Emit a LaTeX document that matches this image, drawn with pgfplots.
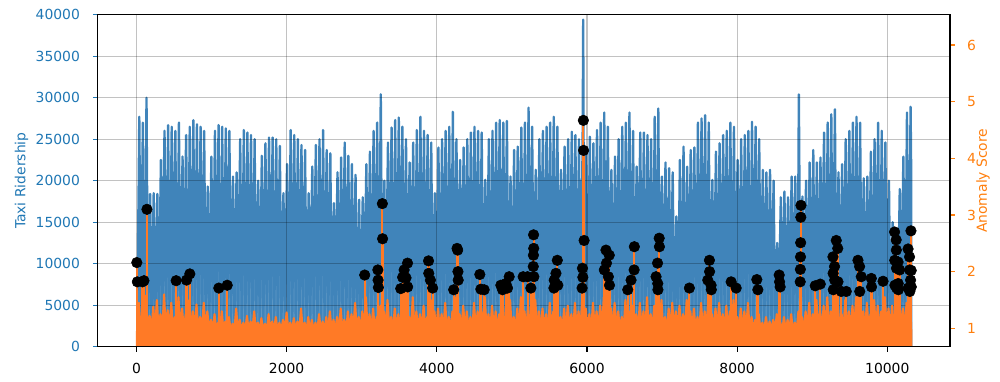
\documentclass[border=0pt]{standalone}
\usepackage{fontspec}
\setmainfont{DejaVu Sans}
\usepackage{pgfplots}
\pgfplotsset{compat=1.18}
\definecolor{tblue}{RGB}{31,119,180}
\definecolor{lblue}{RGB}{64,132,186}
\definecolor{torange}{RGB}{255,127,14}
\definecolor{lorange}{RGB}{255,122,38}
\begin{document}
\begin{tikzpicture}[x=1pt,y=1pt]
\useasboundingbox (0,0) rectangle (720,274.32);
\begin{axis}[
  at={(70.34pt,24.70pt)}, anchor=south west,
  scale only axis, width=613.66pt, height=239.04pt,
  xmin=-516, xmax=10835, ymin=0, ymax=40000,
  xtick={0,2000,4000,6000,8000,10000},
  ytick={0,5000,10000,15000,20000,25000,30000,35000,40000},
  scaled x ticks=false, scaled y ticks=false,
  tick pos=left, tick align=outside, major tick length=3.5pt,
  x tick style={black, line width=0.8pt}, y tick style={tblue, line width=0.8pt},
  yticklabel style={text=tblue, inner sep=0pt}, xticklabel style={inner sep=0pt},
  xticklabel shift=8.4pt, yticklabel shift=9.1pt,
  /pgf/number format/1000 sep={}, /pgf/number format/assume math mode=true,
  grid=major, major grid style={line width=0.8pt, black, opacity=0.24},
  axis on top, axis line style={line width=0.8pt},
  ylabel={Taxi Ridership},
  ylabel style={at={(axis description cs:-0.0892,0.5)}, anchor=center, text=tblue},
]
\addplot[draw=lblue, fill=lblue!82!white, line width=1.7pt, line join=round] coordinates {
(10,2500)(30,19500)(38,27700)(58,2500)(78,20500)(86,27000)(106,2500)(126,18500)(134,30000)
(154,2000)(174,14000)(182,18400)(202,2000)(222,14000)(230,18500)(250,2000)(270,14000)(278,18400)
(298,2500)(318,17000)(326,22500)(346,2500)(366,20500)(374,26000)(394,2500)(414,18500)(422,26700)
(442,2500)(462,19500)(470,26500)(490,2500)(510,20500)(518,26000)(538,2500)(558,18500)(566,27000)
(586,2500)(606,17000)(614,22900)(634,2500)(654,20500)(662,25500)(682,2500)(702,18500)(710,26500)
(730,2500)(750,19500)(758,27300)(778,2500)(798,20500)(806,26800)(826,2500)(846,18500)(854,26500)
(874,2500)(894,19500)(902,26000)(922,2500)(942,15000)(950,19300)(970,2500)(990,17000)(998,22900)
(1018,2500)(1038,19500)(1046,26000)(1066,2500)(1086,20500)(1094,26700)(1114,2500)(1134,18500)(1142,26500)
(1162,2500)(1182,19500)(1190,26300)(1210,2500)(1230,20500)(1238,26000)(1258,2500)(1278,15500)(1286,20500)
(1306,2500)(1326,16500)(1334,21000)(1354,2500)(1374,19500)(1382,25000)(1402,2500)(1422,18000)(1430,26100)
(1450,2500)(1470,18500)(1478,25800)(1498,2500)(1518,19500)(1526,25500)(1546,2500)(1566,18000)(1574,25000)
(1594,2500)(1614,15000)(1622,20000)(1642,2500)(1662,17500)(1670,23000)(1690,2500)(1710,18000)(1718,24500)
(1738,2500)(1758,18500)(1766,25200)(1786,2500)(1806,19500)(1814,25200)(1834,2500)(1854,18000)(1862,25000)
(1882,2500)(1902,18500)(1910,24200)(1930,2500)(1950,14000)(1958,18500)(1978,2500)(1998,17000)(2006,22000)
(2026,2500)(2046,18500)(2054,26100)(2074,2500)(2094,19500)(2102,25500)(2122,2500)(2142,18000)(2150,25000)
(2170,2500)(2190,18500)(2198,24300)(2218,2500)(2238,18000)(2246,23700)(2266,2500)(2286,14000)(2294,18500)
(2314,2500)(2334,17000)(2342,21700)(2362,2500)(2382,19500)(2390,24300)(2410,2500)(2430,18000)(2438,25000)
(2458,2500)(2478,18500)(2486,26100)(2506,2500)(2526,18000)(2534,23700)(2554,2500)(2574,18000)(2582,23300)
(2602,2500)(2622,13500)(2630,17300)(2650,2500)(2670,16500)(2678,21000)(2698,2500)(2718,17500)(2726,22800)
(2746,2500)(2766,18500)(2774,24600)(2794,2500)(2814,17500)(2822,23000)(2842,2500)(2862,17000)(2870,22000)
(2890,2500)(2910,16000)(2918,20700)(2938,2500)(2958,13500)(2966,17700)(2986,2500)(3006,14000)(3014,18000)
(3034,2500)(3054,17000)(3062,22000)(3082,2500)(3102,18000)(3110,23500)(3130,2500)(3150,18000)(3158,26000)
(3178,2500)(3198,19500)(3206,27000)(3226,2500)(3246,20500)(3254,30400)(3274,2500)(3294,15500)(3302,20000)
(3322,2500)(3342,18500)(3350,24600)(3370,2500)(3390,20500)(3398,26400)(3418,2500)(3438,18500)(3446,27300)
(3466,2500)(3486,19500)(3494,27600)(3514,2500)(3534,20500)(3542,26500)(3562,2500)(3582,18000)(3590,25000)
(3610,2500)(3630,17000)(3638,22200)(3658,2500)(3678,19500)(3686,24600)(3706,2500)(3726,18500)(3734,26100)
(3754,2500)(3774,19500)(3782,27700)(3802,2500)(3822,20500)(3830,26000)(3850,2500)(3870,18000)(3878,25500)
(3898,2500)(3918,18500)(3926,24600)(3946,2500)(3966,14000)(3974,18500)(3994,2500)(4014,18000)(4022,24000)
(4042,2500)(4062,18500)(4070,25000)(4090,2500)(4110,20500)(4118,26000)(4138,2500)(4158,18500)(4166,26500)
(4186,2500)(4206,19500)(4214,28300)(4234,2500)(4254,19500)(4262,25000)(4282,2500)(4302,17000)(4310,22500)
(4330,2500)(4350,18500)(4358,24000)(4378,2500)(4398,19500)(4406,25000)(4426,2500)(4446,18500)(4454,25800)
(4474,2500)(4494,19500)(4502,26500)(4522,2500)(4542,20500)(4550,26000)(4570,2500)(4590,18500)(4598,25800)
(4618,2500)(4638,15500)(4646,20100)(4666,2500)(4686,19500)(4694,25000)(4714,2500)(4734,18500)(4742,26000)
(4762,2500)(4782,19500)(4790,27000)(4810,2500)(4830,20500)(4838,27300)(4858,2500)(4878,18500)(4886,27000)
(4906,2500)(4926,19500)(4934,27200)(4954,2500)(4974,15500)(4982,20500)(5002,2500)(5022,18000)(5030,23700)
(5050,2500)(5070,18500)(5078,24100)(5098,2500)(5118,20500)(5126,26400)(5146,2500)(5166,18500)(5174,27000)
(5194,2500)(5214,19500)(5222,28800)(5242,2500)(5262,20500)(5270,26500)(5290,2500)(5310,16500)(5318,21300)
(5338,2500)(5358,18500)(5366,25000)(5386,2500)(5406,20500)(5414,26000)(5434,2500)(5454,18500)(5462,26500)
(5482,2500)(5502,19500)(5510,27000)(5530,2500)(5550,20500)(5558,27700)(5578,2500)(5598,18500)(5606,26500)
(5626,2500)(5646,16500)(5654,21300)(5674,2500)(5694,19500)(5702,24100)(5722,2500)(5742,18000)(5750,25000)
(5770,2500)(5790,19500)(5798,25900)(5818,2500)(5838,19500)(5846,25500)(5866,2500)(5886,18000)(5894,25000)
(5914,2500)(5934,18500)(5942,24000)(5950,39400)(5962,2500)(5982,18000)(5990,23400)
(6010,2500)(6030,18000)(6038,25300)(6058,2500)(6078,18500)(6086,24500)(6106,2500)(6126,20500)(6134,26100)
(6154,2500)(6174,18500)(6182,27000)(6202,2500)(6222,19500)(6230,28200)(6250,2500)(6270,20500)(6278,26500)
(6298,2500)(6318,16500)(6326,21300)(6346,2500)(6366,17500)(6374,22900)(6394,2500)(6414,19500)(6422,25000)
(6442,2500)(6462,18500)(6470,26500)(6490,2500)(6510,19500)(6518,27000)(6538,2500)(6558,20500)(6566,28200)
(6586,2500)(6606,18500)(6614,26000)(6634,2500)(6654,16500)(6662,21700)(6682,2500)(6702,20500)(6710,25800)
(6730,2500)(6750,18500)(6758,25800)(6778,2500)(6798,18500)(6806,25500)(6826,2500)(6846,19500)(6854,25000)
(6874,2500)(6894,18500)(6902,27700)(6922,2500)(6942,19500)(6950,28700)(6970,2500)(6990,15500)(6998,20500)
(7018,2500)(7038,17000)(7046,22200)(7066,2500)(7086,16500)(7094,21500)(7114,2500)(7134,16000)(7142,21000)
(7162,2000)(7182,11500)(7190,15700)(7210,2500)(7230,16500)(7238,22500)(7258,2500)(7278,17500)(7286,24100)
(7306,2500)(7326,16000)(7334,21700)(7354,2500)(7374,18000)(7382,23700)(7402,2500)(7422,19500)(7430,24000)
(7450,2500)(7470,18500)(7478,27000)(7498,2500)(7518,19500)(7526,27500)(7546,2500)(7566,20500)(7574,27900)
(7594,2500)(7614,18500)(7622,27000)(7642,2500)(7662,15500)(7670,20100)(7690,2500)(7710,18000)(7718,23500)
(7738,2500)(7758,18000)(7766,24500)(7786,2500)(7806,18500)(7814,25500)(7834,2500)(7854,20500)(7862,26000)
(7882,2500)(7902,18500)(7910,27000)(7930,2500)(7950,19500)(7958,26500)(7978,2500)(7998,17000)(8006,22500)
(8026,2500)(8046,18000)(8054,25000)(8074,2500)(8094,18500)(8102,25500)(8122,2500)(8142,20500)(8150,26000)
(8170,2500)(8190,18500)(8198,27100)(8218,2500)(8238,19500)(8246,26500)(8266,2500)(8286,19500)(8294,25000)
(8314,2500)(8334,16500)(8342,21300)(8362,2500)(8382,16500)(8390,21000)(8410,2500)(8430,16500)(8438,21300)
(8458,2500)(8478,15500)(8486,20000)(8506,2000)(8526,9000)(8534,12500)(8554,2500)(8574,14000)(8582,18000)
(8602,2500)(8622,14500)(8630,18700)(8650,2500)(8670,14000)(8678,18000)(8698,2500)(8718,16000)(8726,20500)
(8746,2500)(8766,16000)(8774,20500)(8794,2500)(8814,17000)(8822,30400)(8842,2500)(8862,14000)(8870,18100)
(8890,2500)(8910,15500)(8918,20000)(8938,2500)(8958,17000)(8966,22200)(8986,2500)(9006,18000)(9014,23700)
(9034,2500)(9054,17000)(9062,22200)(9082,2500)(9102,17500)(9110,22800)(9130,2500)(9150,20500)(9158,25800)
(9178,2500)(9198,18500)(9206,27000)(9226,2500)(9246,19500)(9254,28000)(9274,2500)(9294,20500)(9302,28600)
(9322,2500)(9342,16500)(9350,21000)(9370,2500)(9390,17000)(9398,22000)(9418,2500)(9438,19500)(9446,25000)
(9466,2500)(9486,18500)(9494,26000)(9514,2500)(9534,19500)(9542,27000)(9562,2500)(9582,20500)(9590,27700)
(9610,2500)(9630,18500)(9638,27000)(9658,2500)(9678,15500)(9686,20300)(9706,2500)(9726,16000)(9734,20500)
(9754,2500)(9774,18000)(9782,23500)(9802,2500)(9822,18500)(9830,25000)(9850,2500)(9870,20500)(9878,27000)
(9898,2500)(9918,18500)(9926,26000)(9946,2500)(9966,18500)(9974,24600)(9994,2500)(10014,15500)(10022,20000)
(10042,2000)(10062,6000)(10070,15000)(10090,600)(10110,2000)(10118,3000)(10138,1200)(10158,14500)(10166,19000)
(10186,2500)(10206,17500)(10214,22900)(10234,2500)(10254,19500)(10262,28200)(10282,2500)(10302,20500)(10310,28900)
(10319,20000)
} \closedcycle;
\end{axis}
\begin{axis}[
  at={(70.34pt,24.70pt)}, anchor=south west,
  scale only axis, width=613.66pt, height=239.04pt,
  xmin=-516, xmax=10835, ymin=0.675, ymax=6.535,
  xtick=\empty, ytick={1,2,3,4,5,6},
  ytick pos=right, yticklabel pos=right,
  tick align=outside, major tick length=3.5pt,
  y tick style={torange, line width=0.8pt},
  yticklabel style={text=torange, inner sep=0pt}, yticklabel shift=8.6pt,
  /pgf/number format/assume math mode=true,
  axis on top, axis line style={line width=0.8pt},
  ylabel={Anomaly Score},
  ylabel style={at={(axis description cs:1.0387,0.5)}, anchor=center, text=torange},
]
\addplot[draw=lorange, fill=lorange, line width=1.5pt, line join=round] coordinates {
(8,0.95)(32,1.45)(56,0.95)(80,1.30)(104,0.95)(128,1.58)(152,0.95)(176,1.22)(200,0.95)(224,1.38)
(248,0.95)(272,1.50)(296,0.95)(320,1.25)(344,0.95)(368,1.60)(392,0.95)(416,1.32)(440,0.95)(464,1.45)
(488,0.95)(512,1.20)(536,0.95)(560,1.55)(584,0.95)(608,1.35)(632,0.95)(656,1.25)(680,0.95)(704,1.50)
(728,0.95)(752,1.30)(776,0.95)(800,1.42)(824,0.95)(848,1.20)(872,0.95)(896,1.45)(920,0.95)(944,1.30)
(968,0.95)(992,1.15)(1016,0.95)(1040,1.25)(1064,0.95)(1088,1.10)(1112,0.95)(1136,1.30)(1160,0.95)(1184,1.12)
(1208,0.95)(1232,1.20)(1256,0.95)(1280,1.08)(1304,0.95)(1328,1.35)(1352,0.95)(1376,1.15)(1400,0.95)(1424,1.10)
(1448,0.95)(1472,1.22)(1496,0.95)(1520,1.12)(1544,0.95)(1568,1.30)(1592,0.95)(1616,1.10)(1640,0.95)(1664,1.18)
(1688,0.95)(1712,1.08)(1736,0.95)(1760,1.25)(1784,0.95)(1808,1.12)(1832,0.95)(1856,1.20)(1880,0.95)(1904,1.10)
(1928,0.95)(1952,1.15)(1976,0.95)(2000,1.28)(2024,0.95)(2048,1.10)(2072,0.95)(2096,1.18)(2120,0.95)(2144,1.12)
(2168,0.95)(2192,1.35)(2216,0.95)(2240,1.10)(2264,0.95)(2288,1.20)(2312,0.95)(2336,1.15)(2360,0.95)(2384,1.10)
(2408,0.95)(2432,1.25)(2456,0.95)(2480,1.12)(2504,0.95)(2528,1.20)(2552,0.95)(2576,1.30)(2600,0.95)(2624,1.15)
(2648,0.95)(2672,1.20)(2696,0.95)(2720,1.35)(2744,0.95)(2768,1.15)(2792,0.95)(2816,1.30)(2840,0.95)(2864,1.25)
(2888,0.95)(2912,1.45)(2936,0.95)(2960,1.20)(2984,0.95)(3008,1.30)(3032,0.95)(3056,1.55)(3080,0.95)(3104,1.25)
(3128,0.95)(3152,1.35)(3176,0.95)(3200,1.20)(3224,0.95)(3248,1.40)(3272,0.95)(3296,1.30)(3320,0.95)(3344,1.50)
(3368,0.95)(3392,1.20)(3416,0.95)(3440,1.35)(3464,0.95)(3488,1.25)(3512,0.95)(3536,1.45)(3560,0.95)(3584,1.30)
(3608,0.95)(3632,1.20)(3656,0.95)(3680,1.55)(3704,0.95)(3728,1.30)(3752,0.95)(3776,1.25)(3800,0.95)(3824,1.40)
(3848,0.95)(3872,1.20)(3896,0.95)(3920,1.50)(3944,0.95)(3968,1.30)(3992,0.95)(4016,1.35)(4040,0.95)(4064,1.25)
(4088,0.95)(4112,1.45)(4136,0.95)(4160,1.20)(4184,0.95)(4208,1.30)(4232,0.95)(4256,1.55)(4280,0.95)(4304,1.25)
(4328,0.95)(4352,1.40)(4376,0.95)(4400,1.30)(4424,0.95)(4448,1.20)(4472,0.95)(4496,1.45)(4520,0.95)(4544,1.30)
(4568,0.95)(4592,1.35)(4616,0.95)(4640,1.55)(4664,0.95)(4688,1.25)(4712,0.95)(4736,1.40)(4760,0.95)(4784,1.30)
(4808,0.95)(4832,1.25)(4856,0.95)(4880,1.45)(4904,0.95)(4928,1.30)(4952,0.95)(4976,1.50)(5000,0.95)(5024,1.20)
(5048,0.95)(5072,1.35)(5096,0.95)(5120,1.55)(5144,0.95)(5168,1.30)(5192,0.95)(5216,1.40)(5240,0.95)(5264,1.25)
(5288,0.95)(5312,1.50)(5336,0.95)(5360,1.30)(5384,0.95)(5408,1.35)(5432,0.95)(5456,1.25)(5480,0.95)(5504,1.45)
(5528,0.95)(5552,1.30)(5576,0.95)(5600,1.55)(5624,0.95)(5648,1.20)(5672,0.95)(5696,1.35)(5720,0.95)(5744,1.40)
(5768,0.95)(5792,1.25)(5816,0.95)(5840,1.45)(5864,0.95)(5888,1.30)(5912,0.95)(5936,1.50)(5960,0.95)(5984,1.35)
(6008,0.95)(6032,1.25)(6056,0.95)(6080,1.45)(6104,0.95)(6128,1.30)(6152,0.95)(6176,1.40)(6200,0.95)(6224,1.55)
(6248,0.95)(6272,1.25)(6296,0.95)(6320,1.35)(6344,0.95)(6368,1.45)(6392,0.95)(6416,1.30)(6440,0.95)(6464,1.20)
(6488,0.95)(6512,1.50)(6536,0.95)(6560,1.30)(6584,0.95)(6608,1.40)(6632,0.95)(6656,1.25)(6680,0.95)(6704,1.45)
(6728,0.95)(6752,1.30)(6776,0.95)(6800,1.55)(6824,0.95)(6848,1.25)(6872,0.95)(6896,1.40)(6920,0.95)(6944,1.30)
(6968,0.95)(6992,1.50)(7016,0.95)(7040,1.20)(7064,0.95)(7088,1.35)(7112,0.95)(7136,1.45)(7160,0.95)(7184,1.30)
(7208,0.95)(7232,1.40)(7256,0.95)(7280,1.25)(7304,0.95)(7328,1.50)(7352,0.95)(7376,1.30)(7400,0.95)(7424,1.35)
(7448,0.95)(7472,1.20)(7496,0.95)(7520,1.45)(7544,0.95)(7568,1.30)(7592,0.95)(7616,1.55)(7640,0.95)(7664,1.25)
(7688,0.95)(7712,1.35)(7736,0.95)(7760,1.45)(7784,0.95)(7808,1.25)(7832,0.95)(7856,1.40)(7880,0.95)(7904,1.30)
(7928,0.95)(7952,1.50)(7976,0.95)(8000,1.20)(8024,0.95)(8048,1.35)(8072,0.95)(8096,1.30)(8120,0.95)(8144,1.45)
(8168,0.95)(8192,1.20)(8216,0.95)(8240,1.15)(8264,0.95)(8288,1.25)(8312,0.95)(8336,1.10)(8360,0.95)(8384,1.20)
(8408,0.95)(8432,1.12)(8456,0.95)(8480,1.15)(8504,0.95)(8528,1.25)(8552,0.95)(8576,1.10)(8600,0.95)(8624,1.20)
(8648,0.95)(8672,1.15)(8696,0.95)(8720,1.25)(8744,0.95)(8768,1.10)(8792,0.95)(8816,1.30)(8840,0.95)(8864,1.20)
(8888,0.95)(8912,1.30)(8936,0.95)(8960,1.45)(8984,0.95)(9008,1.25)(9032,0.95)(9056,1.50)(9080,0.95)(9104,1.30)
(9128,0.95)(9152,1.40)(9176,0.95)(9200,1.55)(9224,0.95)(9248,1.30)(9272,0.95)(9296,1.45)(9320,0.95)(9344,1.35)
(9368,0.95)(9392,1.25)(9416,0.95)(9440,1.50)(9464,0.95)(9488,1.30)(9512,0.95)(9536,1.40)(9560,0.95)(9584,1.55)
(9608,0.95)(9632,1.35)(9656,0.95)(9680,1.30)(9704,0.95)(9728,1.45)(9752,0.95)(9776,1.25)(9800,0.95)(9824,1.50)
(9848,0.95)(9872,1.40)(9896,0.95)(9920,1.30)(9944,0.95)(9968,1.55)(9992,0.95)(10016,1.35)(10040,0.95)(10064,1.40)
(10088,0.95)(10112,1.30)(10136,0.95)(10160,1.50)(10184,0.95)(10208,1.35)(10232,0.95)(10256,1.45)(10280,0.95)(10304,1.55)
(10319,0.95)
} \closedcycle;
\pgfplotstableread{
s a
5 2.16
12 1.82
80 1.82
100 1.84
140 3.10
529 1.84
667 1.85
711 1.96
1097 1.71
1209 1.76
3040 1.94
3215 2.03
3218 1.85
3222 1.72
3275 3.20
3278 2.58
3520 1.70
3545 1.90
3565 2.03
3590 1.89
3610 2.15
3612 1.73
3890 2.19
3893 1.97
3915 1.85
3945 1.71
4225 1.68
4270 2.41
4278 2.38
4282 2.00
4285 1.85
4573 1.95
4587 1.69
4631 1.68
4853 1.76
4876 1.68
4920 1.79
4942 1.71
4964 1.91
5150 1.91
5209 1.91
5253 1.71
5285 2.09
5287 2.29
5289 2.65
5291 2.41
5293 1.91
5560 1.71
5564 1.85
5587 1.97
5605 2.20
5612 1.76
5935 1.71
5940 2.06
5945 1.90
5952 4.67
5955 4.14
5962 2.55
6231 2.03
6253 2.38
6260 2.15
6285 1.91
6297 2.29
6300 1.76
6543 1.68
6587 1.85
6628 2.03
6631 2.44
6920 1.91
6940 2.15
6943 1.79
6945 1.68
6962 2.59
6965 2.44
7364 1.71
7609 1.85
7631 2.20
7633 2.00
7653 1.76
7656 1.68
7920 1.82
7987 1.71
8262 1.86
8276 1.68
8560 1.94
8565 1.82
8573 1.73
8840 1.82
8842 2.04
8844 2.26
8846 2.51
8848 2.96
8850 3.17
9040 1.75
9107 1.78
9276 2.26
9278 1.97
9280 1.68
9297 2.09
9299 1.85
9320 2.55
9340 2.41
9343 1.82
9387 1.65
9453 1.65
9609 2.20
9631 2.09
9633 1.65
9653 1.91
9787 1.88
9790 1.73
9943 1.83
10097 2.70
10099 2.20
10101 1.76
10118 2.56
10120 2.38
10122 2.06
10124 1.71
10143 2.17
10145 1.79
10147 1.68
10164 2.03
10276 2.40
10278 1.71
10296 2.26
10298 2.03
10300 1.65
10310 1.85
10315 2.72
10318 2.02
10319 1.73
}\anom
\addplot[ycomb, lorange, line width=1.5pt] table[x=s, y=a] {\anom};
\addplot[only marks, mark=*, mark size=3.8pt, black] table[x=s, y=a] {\anom};
\end{axis}
\end{tikzpicture}
\end{document}
